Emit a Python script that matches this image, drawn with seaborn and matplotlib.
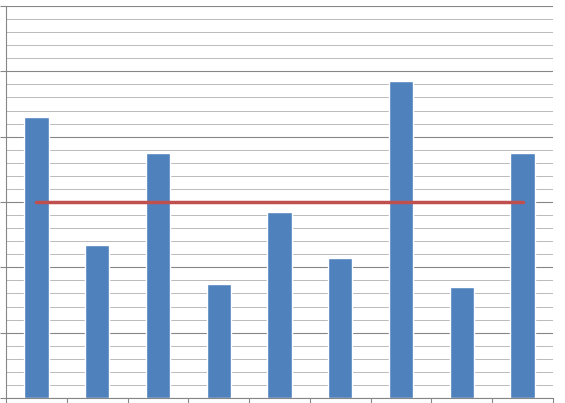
import numpy as np
import pandas as pd
import matplotlib
matplotlib.use("Agg")
import matplotlib.pyplot as plt
import seaborn as sns
from matplotlib.ticker import MultipleLocator

categories = ["1", "2", "3", "4", "5", "6", "7", "8", "9"]
values = [21.5, 11.7, 18.75, 8.7, 14.2, 10.7, 24.25, 8.5, 18.75]
average = [15] * len(categories)

df = pd.DataFrame({"cat": categories, "val": values})

sns.set_style("white")
fig = plt.figure(figsize=(5.65, 4.03), dpi=100)
ax = fig.add_axes([6 / 565, 5 / 403, 547 / 565, 392 / 403])

sns.barplot(data=df, x="cat", y="val", color="#4F81BD", saturation=1, width=0.4, ax=ax)
ax.plot(range(len(categories)), average, color="#C0504D", lw=2.5)

ax.set_xlim(-0.5, len(categories) - 0.5)
ax.set_ylim(0, 30)
ax.yaxis.set_major_locator(MultipleLocator(5))
ax.yaxis.set_minor_locator(MultipleLocator(1))
ax.grid(True, which="major", axis="y", color="#868686", lw=0.8)
ax.grid(True, which="minor", axis="y", color="#B0B0B0", lw=0.6)
ax.set_axisbelow(True)

ax.set_xticks(np.arange(-0.5, len(categories), 1))
ax.tick_params(axis="x", length=4, color="#868686", labelbottom=False, direction="out", bottom=True)
ax.tick_params(axis="y", which="major", length=4, color="#868686", labelleft=False, left=True)
ax.tick_params(axis="y", which="minor", length=0)
ax.set_xlabel("")
ax.set_ylabel("")
for s in ["top", "right"]:
    ax.spines[s].set_visible(False)
for s in ["left", "bottom"]:
    ax.spines[s].set_color("#868686")

fig.savefig("out.png", dpi=100)
